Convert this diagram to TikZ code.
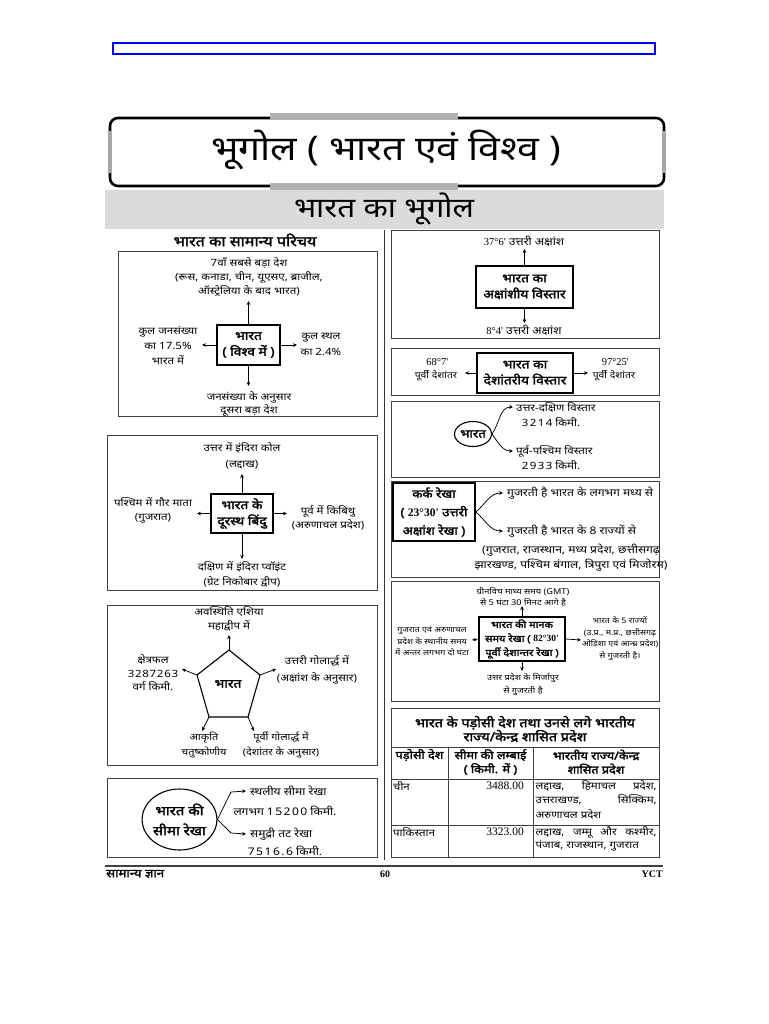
\documentclass[tikz,border=0pt]{standalone}
\usepackage{fontspec}
\setmainfont[Script=Devanagari, FakeStretch=1.15, BoldFont={Noto Sans}, BoldFeatures={FakeBold=2.2}]{Noto Sans}
\newfontfamily\lser{Liberation Serif}
\usetikzlibrary{arrows.meta,shapes.geometric}
\newcommand\fsz[2]{\fontsize{#1}{#2}\selectfont}
\newcommand\lsp[1]{{\addfontfeatures{LetterSpace=14}#1}}
\newcommand\lspn[1]{{\addfontfeatures{LetterSpace=7}#1}}
\tikzset{
  frame/.style={draw=black!75, line width=0.8pt},
  cbox/.style={draw, line width=1.1pt, align=center, inner sep=1pt, font=\bfseries\fsz{12}{16}},
  txt/.style={align=center, inner sep=0pt, font=\fsz{10}{13}},
  arr/.style={-{Stealth[length=4pt,width=3.6pt]}, line width=0.75pt},
  lnk/.style={line width=0.75pt},
}
\begin{document}
\begin{tikzpicture}[x=1pt,y=-1pt]
\useasboundingbox (0,0) rectangle (768,1024);
\fill[white] (0,0) rectangle (768,1024);
% top blue rectangle
\draw[blue, line width=1.5pt] (113,43) rectangle (655,54);
% title frame
\draw[line width=2.6pt, rounded corners=8pt] (110,118) rectangle (664,186);
\fill[black!30] (270,113) rectangle (458,120.5);
\fill[black!30] (270,183.5) rectangle (458,190);
\draw[black!35, line width=3.2pt] (110,131) -- (110,173);
\draw[black!35, line width=3.2pt] (664,131) -- (664,173);
\node[inner sep=0pt, font=\fsz{34}{40}] (title) at (386,150) {भूगोल ( भारत एवं विश्व )};
% grey band
\fill[black!14] (105,190) rectangle (664,229);
\node[inner sep=0pt, font=\fsz{27.5}{32}] (sub) at (384,209) {भारत का भूगोल};
% column divider
\draw[black!80, line width=0.8pt] (384,230) -- (384,860);

% ===== Left 1 =====
\node[inner sep=0pt, font=\bfseries\fsz{14}{16}] (h1) at (245,240) {भारत का सामान्य परिचय};
\draw[frame] (118,251) rectangle (377,416);
\node[cbox, minimum width=63pt, minimum height=40pt] (b1) at (248.5,345) {भारत\\( विश्व में )};
\node[txt, font=\fsz{10}{14}] (b1t) at (249,277) {7वाँ सबसे बड़ा देश\\(रूस, कनाडा, चीन, यूएसए, ब्राजील,\\ऑस्ट्रेलिया के बाद भारत)};
\node[txt, font=\fsz{10}{15}] (b1l) at (168,345) {कुल जनसंख्या\\का 17.5\%\\भारत में};
\node[txt, font=\fsz{10}{16}] (b1r) at (321,344) {कुल स्थल\\का 2.4\%};
\node[txt, font=\fsz{10}{13.5}] (b1b) at (249,404) {जनसंख्या के अनुसार\\दूसरा बड़ा देश};
\coordinate (b1u) at (248.5,301);
\coordinate (b1w) at (202,345);
\coordinate (b1e) at (297,345);
\coordinate (b1d) at (248.5,386);
\draw[arr] (b1.north) -- (b1u);
\draw[arr] (b1.west) -- (b1w);
\draw[arr] (b1.east) -- (b1e);
\draw[arr] (b1.south) -- (b1d);

% ===== Left 2 =====
\draw[frame] (107,435) rectangle (377,590);
\node[cbox, minimum width=62pt, minimum height=39pt] (b2) at (242,513.5) {भारत के\\दूरस्थ बिंदु};
\node[txt, font=\fsz{10}{16}] (b2t) at (242,456) {उत्तर में इंदिरा कोल\\(लद्दाख)};
\node[txt, font=\fsz{10}{14}] (b2l) at (153,510.5) {पश्चिम में गौर माता\\(गुजरात)};
\node[txt, font=\fsz{10}{14}] (b2r) at (328,518) {पूर्व में किबिथु\\(अरुणाचल प्रदेश)};
\node[txt, font=\fsz{10}{15}] (b2b) at (242,574) {दक्षिण में इंदिरा प्वॉइंट\\(ग्रेट निकोबार द्वीप)};
\coordinate (b2u) at (242,474);
\coordinate (b2w) at (197,513.5);
\coordinate (b2e) at (287,513.5);
\coordinate (b2d) at (242,559);
\draw[arr] (b2.north) -- (b2u);
\draw[arr] (b2.west) -- (b2w);
\draw[arr] (b2.east) -- (b2e);
\draw[arr] (b2.south) -- (b2d);

% ===== Left 3 =====
\draw[frame] (107,605) rectangle (377,765);
\coordinate (pA) at (229,650);
\coordinate (pB) at (260,675);
\coordinate (pC) at (248,717);
\coordinate (pD) at (209,717);
\coordinate (pE) at (197,675);
\draw[line width=1.1pt, line join=round] (pA) -- (pB) -- (pC) -- (pD) -- (pE) -- cycle;
\node[inner sep=0pt, font=\bfseries\fsz{12}{14}] (p) at (228,684) {भारत};
\coordinate (pAu) at (229,635);
\coordinate (pBu) at (276,669);
\coordinate (pEu) at (182,669);
\coordinate (pDu) at (202,731);
\coordinate (pCu) at (254,731);
\draw[arr] (pA) -- (pAu);
\draw[arr] (pB) -- (pBu);
\draw[arr] (pE) -- (pEu);
\draw[arr] (pD) -- (pDu);
\draw[arr] (pC) -- (pCu);
\node[txt, font=\fsz{10}{13.5}] (p1) at (229,619) {अवस्थिति एशिया\\महाद्वीप में};
\node[txt, font=\fsz{10}{13.5}] (p2) at (153,673) {क्षेत्रफल\\\lspn{3287263}\\वर्ग किमी.};
\node[txt, font=\fsz{10}{17}] (p3) at (317,669.5) {उत्तरी गोलार्द्ध में\\(अक्षांश के अनुसार)};
\node[txt, font=\fsz{9.5}{15}] (p4) at (204,745.5) {आकृति\\चतुष्कोणीय};
\node[txt, font=\fsz{9.5}{15}] (p5) at (281,745.5) {पूर्वी गोलार्द्ध में\\(देशांतर के अनुसार)};

% ===== Left 4 =====
\draw[frame] (107,778) rectangle (377,857);
\node[ellipse, draw, line width=1.1pt, minimum width=71pt, minimum height=61pt, inner sep=0pt, align=center, font=\bfseries\fsz{13}{20}] (e4) at (179.5,819.5) {भारत की\\सीमा रेखा};
\node[inner sep=0pt, anchor=west, font=\fsz{10.5}{12}] (e4a) at (250,791) {स्थलीय सीमा रेखा};
\node[txt, font=\fsz{10.5}{12}] (e4b) at (285,811) {लगभग \lsp{15200} किमी.};
\node[inner sep=0pt, anchor=west, font=\fsz{10.5}{12}] (e4c) at (250,834) {समुद्री तट रेखा};
\node[txt, font=\fsz{10.5}{12}] (e4d) at (285,851) {\lsp{7516.6} किमी.};
\coordinate (e4u) at (246,791);
\coordinate (e4l) at (246,834);
\draw[lnk, -{Stealth[length=4pt,width=3.6pt]}] (e4.east) -- (231,792) -- (e4u);
\draw[lnk, -{Stealth[length=4pt,width=3.6pt]}] (e4.east) -- (231,833) -- (e4l);

% ===== Right 1 =====
\draw[frame] (391,230) rectangle (659,338);
\node[cbox, minimum width=97pt, minimum height=42pt] (r1) at (524.5,287) {भारत का\\अक्षांशीय विस्तार};
\node[txt, font=\fsz{10.5}{12}] (r1t) at (524,241) {{\lser 37°6'} उत्तरी अक्षांश};
\node[txt, font=\fsz{10.5}{12}] (r1b) at (524,330) {{\lser 8°4'} उत्तरी अक्षांश};
\coordinate (r1u) at (524.5,249);
\coordinate (r1d) at (524.5,323);
\draw[arr] (r1.north) -- (r1u);
\draw[arr] (r1.south) -- (r1d);

% ===== Right 2 =====
\draw[frame] (391,348) rectangle (659,395);
\node[cbox, minimum width=96pt, minimum height=40pt] (r2) at (525,373) {भारत का\\देशांतरीय विस्तार};
\node[txt, font=\fsz{9}{13}] (r2l) at (436,369.5) {{\lser\fsz{10.5}{13} 68°7'}\\पूर्वी देशांतर};
\node[txt, font=\fsz{9}{13}] (r2r) at (614,369.5) {{\lser\fsz{10.5}{13} 97°25'}\\पूर्वी देशांतर};
\coordinate (r2w) at (465,373);
\coordinate (r2e) at (588,373);
\draw[arr] (r2.west) -- (r2w);
\draw[arr] (r2.east) -- (r2e);

% ===== Right 3 =====
\draw[frame] (391,401) rectangle (659,477);
\node[ellipse, draw, line width=1.1pt, minimum width=37pt, minimum height=25pt, inner sep=0pt, font=\bfseries\fsz{11.5}{13}] (r3) at (473,434) {भारत};
\node[inner sep=0pt, anchor=west, font=\fsz{10}{12}] (r3a) at (516,407) {उत्तर-दक्षिण विस्तार};
\node[txt, font=\fsz{10}{12}] (r3b) at (551,422) {\lsp{3214} किमी.};
\node[inner sep=0pt, anchor=west, font=\fsz{10}{12}] (r3c) at (516,451) {पूर्व-पश्चिम विस्तार};
\node[txt, font=\fsz{10}{12}] (r3d) at (551,465) {\lsp{2933} किमी.};
\coordinate (r3u) at (513,407);
\coordinate (r3l) at (513,451);
\draw[lnk, -{Stealth[length=4pt,width=3.6pt]}] (r3.east) to[out=55,in=180] (r3u);
\draw[lnk, -{Stealth[length=4pt,width=3.6pt]}] (r3.east) to[out=-55,in=180] (r3l);

% ===== Right 4 =====
\draw[frame] (391,481) rectangle (659,577);
\node[draw, line width=1.6pt, minimum width=82pt, minimum height=58pt, inner sep=0pt, align=center, font=\bfseries\fsz{11.5}{18.5}] (r4) at (434,512) {कर्क रेखा\\( {\lser 23°30'} उत्तरी\\अक्षांश रेखा )};
\node[inner sep=0pt, anchor=west, font=\fsz{10.5}{12}] (r4a) at (507,493) {गुजरती है भारत के लगभग मध्य से};
\node[inner sep=0pt, anchor=west, font=\fsz{10.5}{12}] (r4b) at (507,531) {गुजरती है भारत के 8 राज्यों से};
\node[txt, font=\fsz{10.5}{15}] (r4c) at (571,557.5) {(गुजरात, राजस्थान, मध्य प्रदेश, छत्तीसगढ़\\झारखण्ड, पश्चिम बंगाल, त्रिपुरा एवं मिजोरम)};
\coordinate (r4u) at (503,493);
\coordinate (r4l) at (503,531);
\draw[lnk, -{Stealth[length=4pt,width=3.6pt]}] (r4.east) to[out=40,in=180] (r4u);
\draw[lnk, -{Stealth[length=4pt,width=3.6pt]}] (r4.east) to[out=-40,in=180] (r4l);

% ===== Right 5 =====
\draw[frame] (391,581) rectangle (659,701);
\node[draw, line width=1.3pt, minimum width=86pt, minimum height=44pt, inner sep=0pt, align=center, font=\bfseries\fsz{9.5}{14}] (r5) at (522,639) {भारत की मानक\\समय रेखा ( {\lser 82°30'}\\पूर्वी देशान्तर रेखा )};
\node[txt, font=\fsz{8}{10.5}] (r5t) at (523,597) {ग्रीनविच माध्य समय (GMT)\\से 5 घंटा 30 मिनट आगे है};
\node[txt, font=\fsz{7.7}{11.5}] (r5l) at (432,641.5) {गुजरात एवं अरुणाचल\\प्रदेश के स्थानीय समय\\में अन्तर लगभग दो घंटा};
\node[txt, font=\fsz{7.7}{11.7}] (r5r) at (620,638.5) {भारत के 5 राज्यों\\(उ.प्र., म.प्र., छत्तीसगढ़\\ओडिशा एवं आन्ध्र प्रदेश)\\से गुजरती है।};
\node[txt, font=\fsz{8}{13}] (r5b) at (523,684.5) {उत्तर प्रदेश के मिर्जापुर\\से गुजरती है};
\coordinate (r5u) at (522,606);
\coordinate (r5w) at (472,640);
\coordinate (r5e) at (581,640);
\coordinate (r5d) at (522,671);
\draw[arr] (r5.north) -- (r5u);
\draw[arr] (r5.west) -- (r5w);
\draw[arr] (r5.east) -- (r5e);
\draw[arr] (r5.south) -- (r5d);

% ===== Table =====
\draw[frame] (391,708) rectangle (659,857);
\draw[black!75, line width=0.8pt] (391,747) -- (659,747);
\draw[black!75, line width=0.8pt] (391,779) -- (659,779);
\draw[black!75, line width=0.8pt] (391,825) -- (659,825);
\draw[black!75, line width=0.8pt] (448,747) -- (448,857);
\draw[black!75, line width=0.8pt] (533,747) -- (533,857);
\node[txt, font=\bfseries\fsz{12.5}{14}] (tt) at (525,729) {भारत के पड़ोसी देश तथा उनसे लगे भारतीय\\राज्य/केन्द्र शासित प्रदेश};
\node[txt, font=\bfseries\fsz{11}{14}] (th1) at (419.5,755) {पड़ोसी देश};
\node[txt, font=\bfseries\fsz{11}{14}] (th2) at (490.5,762) {सीमा की लम्बाई\\( किमी. में )};
\node[txt, font=\bfseries\fsz{11}{14}] (th3) at (596,762) {भारतीय राज्य/केन्द्र\\शासित प्रदेश};
\node[inner sep=0pt, anchor=west, font=\fsz{10}{12}] (c11) at (393,786) {चीन};
\node[inner sep=0pt, anchor=east, font=\lser\fsz{11.5}{12}] (c12) at (524,786) {3488.00};
\node[inner sep=0pt, anchor=west, font=\fsz{10}{12}] (c13a) at (535.5,786) {\hbox to 121pt{लद्दाख,\hfill हिमाचल\hfill प्रदेश,}};
\node[inner sep=0pt, anchor=west, font=\fsz{10}{12}] (c13b) at (535.5,800) {\hbox to 121pt{उत्तराखण्ड,\hfill सिक्किम,}};
\node[inner sep=0pt, anchor=west, font=\fsz{10}{12}] (c13c) at (535.5,814) {अरुणाचल प्रदेश};
\node[inner sep=0pt, anchor=west, font=\fsz{10}{12}] (c21) at (393,832) {पाकिस्तान};
\node[inner sep=0pt, anchor=east, font=\lser\fsz{11.5}{12}] (c22) at (524,832) {3323.00};
\node[inner sep=0pt, anchor=west, font=\fsz{10}{12}] (c23a) at (535.5,832) {\hbox to 121pt{लद्दाख,\hfill जम्मू\hfill और\hfill कश्मीर,}};
\node[inner sep=0pt, anchor=west, font=\fsz{10}{12}] (c23b) at (535.5,846) {पंजाब, राजस्थान, गुजरात};

% ===== Footer =====
\draw[black!75, line width=1.5pt] (105,866) -- (663,866);
\node[inner sep=0pt, anchor=west, font=\bfseries\fsz{11.5}{12}] (f1) at (106,874) {सामान्य ज्ञान};
\node[inner sep=0pt, font=\lser\bfseries\fsz{10}{11}] (f2) at (385,874) {60};
\node[inner sep=0pt, anchor=east, font=\lser\bfseries\fsz{10}{11}] (f3) at (663,874) {YCT};
\end{tikzpicture}
\end{document}
